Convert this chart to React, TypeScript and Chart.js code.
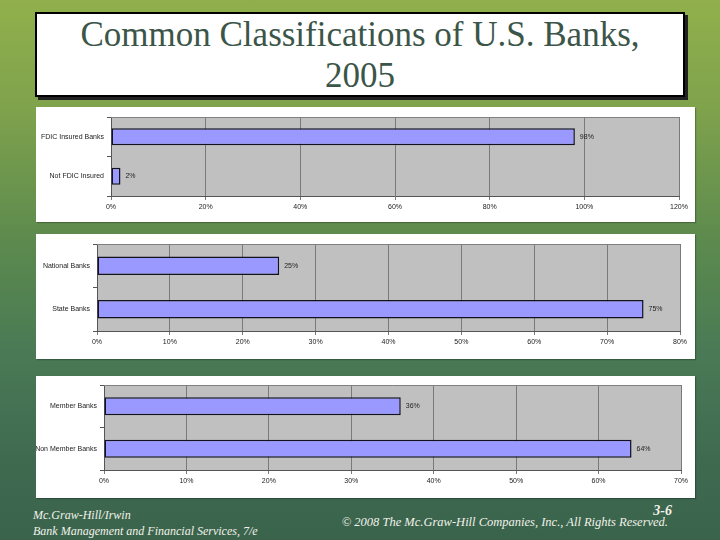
import React, { useEffect, useRef } from "react";
import { Chart, registerables } from "chart.js";

Chart.register(...registerables);

// ---- Data ----
const insuranceLabels = ["FDIC Insured Banks", "Not FDIC Insured"];
const insuranceValues = [98, 2];
const insuranceMax = 120;
const insuranceStep = 20;

const charterLabels = ["National Banks", "State Banks"];
const charterValues = [25, 75];
const charterMax = 80;
const charterStep = 10;

const memberLabels = ["Member Banks", "Non Member Banks"];
const memberValues = [36, 64];
const memberMax = 70;
const memberStep = 10;

const titleLines = ["Common Classifications of U.S. Banks,", "2005"];

const SERIF = '"Liberation Serif", "Times New Roman", Times, "DejaVu Serif", serif';

type PanelProps = {
  labels: string[];
  values: number[];
  max: number;
  step: number;
  left: number;
  top: number;
  width: number;
  height: number;
  yWidth: number;
  xHeight: number;
  padTop: number;
  padRight: number;
};

const plotBg = {
  id: "plotBg",
  beforeDraw(chart: any) {
    const { ctx, chartArea } = chart;
    if (!chartArea) return;
    ctx.save();
    ctx.fillStyle = "#c0c0c0";
    ctx.fillRect(chartArea.left, chartArea.top, chartArea.right - chartArea.left, chartArea.bottom - chartArea.top);
    ctx.restore();
  },
  afterDraw(chart: any) {
    const { ctx, chartArea } = chart;
    ctx.save();
    ctx.strokeStyle = "#808080";
    ctx.lineWidth = 1;
    ctx.beginPath();
    ctx.moveTo(chartArea.left, chartArea.top + 0.5);
    ctx.lineTo(chartArea.right, chartArea.top + 0.5);
    ctx.stroke();
    ctx.restore();
  },
};

const valueLabels = {
  id: "valueLabels",
  afterDatasetsDraw(chart: any) {
    const { ctx } = chart;
    ctx.save();
    ctx.font = "7px 'Liberation Sans', Arial, sans-serif";
    ctx.fillStyle = "#222";
    ctx.textAlign = "left";
    ctx.textBaseline = "middle";
    chart.data.datasets.forEach((ds: any, di: number) => {
      const meta = chart.getDatasetMeta(di);
      meta.data.forEach((el: any, i: number) => {
        ctx.fillText(ds.data[i] + "%", el.x + 5, el.y);
      });
    });
    ctx.restore();
  },
};

function Panel(p: PanelProps) {
  const ref = useRef<HTMLCanvasElement | null>(null);
  useEffect(() => {
    if (!ref.current) return;
    const chart = new Chart(ref.current, {
      type: "bar",
      data: {
        labels: p.labels,
        datasets: [
          {
            data: p.values,
            backgroundColor: "#9999ff",
            borderColor: "#111122",
            borderWidth: 1.5,
            borderSkipped: false,
            barPercentage: 0.85,
            categoryPercentage: 0.5,
          },
        ],
      },
      options: {
        indexAxis: "y",
        animation: false,
        responsive: true,
        maintainAspectRatio: false,
        layout: { padding: { top: p.padTop, right: p.padRight, left: 0, bottom: 0 } },
        plugins: { legend: { display: false }, tooltip: { enabled: false }, title: { display: false } },
        scales: {
          x: {
            min: 0,
            max: p.max,
            ticks: {
              stepSize: p.step,
              callback: (v: any) => v + "%",
              font: { family: "'Liberation Sans', Arial, sans-serif", size: 7 },
              color: "#222",
              padding: 3,
              maxRotation: 0,
            },
            grid: { color: "#7a7a7a", lineWidth: 1, tickLength: 4, drawTicks: true },
            border: { color: "#555", width: 1 },
            afterFit: (s: any) => {
              s.height = p.xHeight;
            },
          },
          y: {
            ticks: {
              font: { family: "'Liberation Sans', Arial, sans-serif", size: 7 },
              color: "#222",
              padding: 3,
            },
            grid: { drawOnChartArea: false, offset: true, tickLength: 4, color: "#555" },
            border: { color: "#555", width: 1 },
            afterFit: (s: any) => {
              s.width = p.yWidth;
            },
          },
        },
      },
      plugins: [plotBg, valueLabels],
    } as any);
    return () => chart.destroy();
  }, []);
  return (
    <div
      style={{
        position: "absolute",
        left: p.left,
        top: p.top,
        width: p.width,
        height: p.height,
        background: "#ffffff",
        boxShadow: "1px 1px 1px rgba(0,0,0,0.25)",
      }}
    >
      <canvas ref={ref} />
    </div>
  );
}

export default function App() {
  return (
    <div
      style={{
        position: "fixed",
        left: 0,
        top: 0,
        width: 720,
        height: 540,
        overflow: "hidden",
        background: "linear-gradient(180deg, #91b04c 0%, #7fa24c 20%, #5c8a4e 45%, #4a7a55 65%, #3f6a50 85%, #3a634c 100%)",
        fontFamily: SERIF,
      }}
    >
      <div
        style={{
          position: "absolute",
          left: 35,
          top: 12,
          width: 646,
          height: 81,
          background: "#fff",
          border: "2px solid #000",
          boxShadow: "3px 3px 0 #222",
          textAlign: "center",
          color: "#3b5548",
          fontFamily: SERIF,
          fontSize: 35,
          lineHeight: "41px",
          overflow: "hidden",
        }}
      >
        {titleLines.map((t, i) => (
          <div key={i} style={{ fontFamily: SERIF, whiteSpace: "nowrap" }}>{t}</div>
        ))}
      </div>

      <Panel labels={insuranceLabels} values={insuranceValues} max={insuranceMax} step={insuranceStep}
        left={36} top={107} width={659} height={115} yWidth={75} xHeight={26} padTop={10} padRight={16} />
      <Panel labels={charterLabels} values={charterValues} max={charterMax} step={charterStep}
        left={36} top={234} width={659} height={125} yWidth={61} xHeight={28} padTop={10} padRight={15} />
      <Panel labels={memberLabels} values={memberValues} max={memberMax} step={memberStep}
        left={36} top={376} width={659} height={122} yWidth={68} xHeight={28} padTop={9} padRight={14} />

      <div style={{ position: "absolute", left: 33, top: 507, color: "#f2f2ea", fontStyle: "italic", fontSize: 12, lineHeight: "16px", fontFamily: SERIF }}>
        <div>Mc.Graw-Hill/Irwin</div>
        <div>Bank Management and Financial Services, 7/e</div>
      </div>
      <div style={{ position: "absolute", right: 48, top: 503, color: "#f2f2ea", fontStyle: "italic", fontWeight: "bold", fontSize: 14, fontFamily: SERIF }}>
        3-6
      </div>
      <div style={{ position: "absolute", right: 52, top: 515, color: "#f2f2ea", fontStyle: "italic", fontSize: 12.5, fontFamily: SERIF }}>
        © 2008 The Mc.Graw-Hill Companies, Inc., All Rights Reserved.
      </div>
    </div>
  );
}
